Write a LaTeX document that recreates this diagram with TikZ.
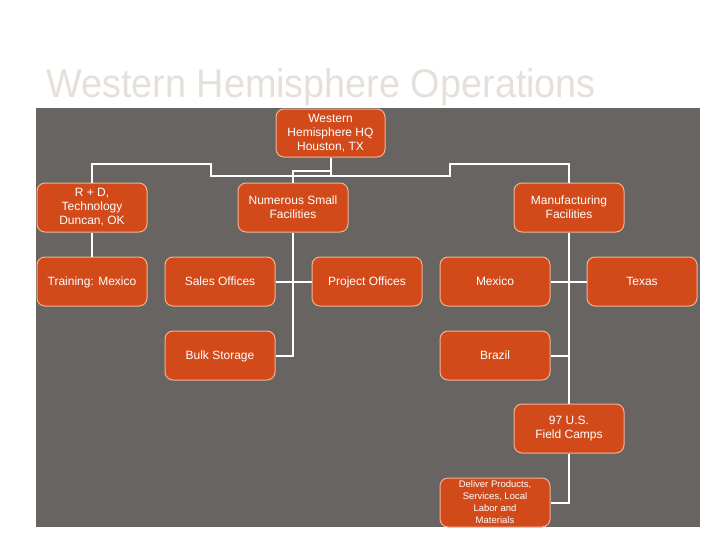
\documentclass[tikz,border=0pt]{standalone}
\usepackage{fontspec}
\setmainfont{Liberation Sans}
\usepackage{graphicx}
\definecolor{panel}{RGB}{104,100,98}
\definecolor{boxfill}{RGB}{210,74,26}
\definecolor{boxedge}{RGB}{240,178,150}
\definecolor{titlecol}{RGB}{229,225,218}
\newcommand{\toprule}{\rule{0pt}{10pt}}
\newcommand{\botrule}{\rule[-1.5pt]{0pt}{1.5pt}}
\tikzset{
  orgbox/.style={draw=boxedge, line width=1pt, fill=boxfill, rounded corners=8pt,
    minimum width=110pt, minimum height=49pt, inner sep=2pt, align=center,
    text=white, font=\fontsize{12}{14}\selectfont,
    execute at begin node=\toprule, execute at end node=\botrule},
  smallbox/.style={orgbox, font=\fontsize{9.5}{12}\selectfont},
  conn/.style={draw=white, line width=2pt}
}
\begin{document}
\begin{tikzpicture}[x=1pt,y=-1pt]
\useasboundingbox (0,0) rectangle (728,546);
\fill[white] (0,0) rectangle (728,546);
\fill[panel] (36,108) rectangle (700,527);
\node[anchor=base west, inner sep=0pt, text=titlecol, font=\fontsize{40}{44}\selectfont] (title) at (46,97) {\scalebox{0.945}[1]{Western Hemisphere Operations}};

% boxes
\node[orgbox, minimum width=109pt, minimum height=48pt] (hq) at (330.5,133) {Western\\Hemisphere HQ\\Houston, TX};
\node[orgbox] (rd) at (92,207.5) {R + D,\\Technology\\Duncan, OK};
\node[orgbox] (ns) at (293,207.5) {Numerous Small\\Facilities};
\node[orgbox] (mf) at (569,207.5) {Manufacturing\\Facilities};
\node[orgbox] (tr) at (92,281.5) {Training: Mexico};
\node[orgbox] (so) at (220,281.5) {Sales Offices};
\node[orgbox] (po) at (367,281.5) {Project Offices};
\node[orgbox] (mx) at (495,281.5) {Mexico};
\node[orgbox] (tx) at (642,281.5) {Texas};
\node[orgbox] (bs) at (220,355.5) {Bulk Storage};
\node[orgbox] (br) at (495,355.5) {Brazil};
\node[orgbox] (fc) at (569,428.5) {97 U.S.\\Field Camps};
\node[smallbox] (dp) at (495,502.5) {Deliver Products,\\Services, Local\\Labor and\\Materials};

% connectors
\draw[conn] (hq.south) -- (hq.south |- 0,176) coordinate (j) -| (450,164) -| (mf.north);
\draw[conn] (j) -| (211,164) -| (rd.north);
\draw[conn] (hq.south |- 0,171) -| (ns.north);
\draw[conn] (rd.south) -- (tr.north);
\draw[conn] (ns.south) -- (ns.south |- bs.east) -- (bs.east);
\draw[conn] (so.east) -- (po.west);
\draw[conn] (mf.south) -- (fc.north);
\draw[conn] (mx.east) -- (tx.west);
\draw[conn] (br.east) -- (br.east -| mf.south);
\draw[conn] (fc.south) -- (fc.south |- dp.east) -- (dp.east);
\end{tikzpicture}
\end{document}
